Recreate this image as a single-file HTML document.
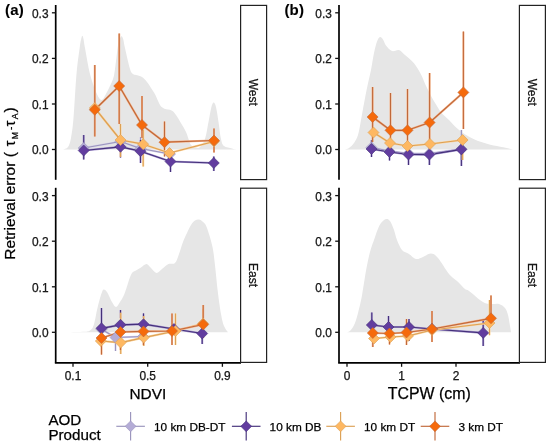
<!DOCTYPE html>
<html><head><meta charset="utf-8"><style>
html,body{margin:0;padding:0;background:#fff;}
svg{display:block;will-change:transform;}
text{font-family:"Liberation Sans",sans-serif;fill:#000;stroke:#000;stroke-width:0.25px;}
.ax{font-size:11.9px;fill:#222;}
.ti{font-size:15.2px;}
.st{font-size:12px;fill:#1a1a1a;}
.lg{font-size:11.8px;}
.tag{font-size:15px;font-weight:bold;letter-spacing:0.2px;stroke-width:0.1px;}
</style></head><body>
<svg width="550" height="445" viewBox="0 0 550 445">
<rect width="550" height="445" fill="#fff"/>
<path d="M63,149.5 C63.83,149.08 66.67,148.92 68,147 C69.33,145.08 70.08,142.83 71,138 C71.92,133.17 72.58,128.67 73.5,118 C74.42,107.33 75.45,85.83 76.5,74 C77.55,62.17 79.02,52.83 79.8,47 C80.58,41.17 80.78,40.87 81.2,39 C81.62,37.13 81.92,35.80 82.3,35.8 C82.68,35.80 83.05,36.97 83.5,39 C83.95,41.03 83.92,42.17 85,48 C86.08,53.83 88.17,66.67 90,74 C91.83,81.33 94.08,87.67 96,92 C97.92,96.33 99.67,100.00 101.5,100 C103.33,100.00 105.08,95.50 107,92 C108.92,88.50 111.67,82.83 113,79 C114.33,75.17 114.13,74.83 115,69 C115.87,63.17 117.33,49.17 118.2,44 C119.07,38.83 119.62,39.30 120.2,38 C120.78,36.70 121.18,35.95 121.7,36.2 C122.22,36.45 122.75,37.53 123.3,39.5 C123.85,41.47 123.88,43.08 125,48 C126.12,52.92 128.67,64.67 130,69 C131.33,73.33 132.00,73.00 133,74 C134.00,75.00 134.50,74.50 136,75 C137.50,75.50 140.17,75.83 142,77 C143.83,78.17 145.50,80.17 147,82 C148.50,83.83 149.60,85.83 151,88 C152.40,90.17 153.90,92.17 155.4,95 C156.90,97.83 158.50,102.72 160,105 C161.50,107.28 162.47,107.80 164.4,108.7 C166.33,109.60 169.67,109.35 171.6,110.4 C173.53,111.45 174.35,112.73 176,115 C177.65,117.27 179.83,121.17 181.5,124 C183.17,126.83 184.83,129.50 186,132 C187.17,134.50 187.67,136.83 188.5,139 C189.33,141.17 189.75,143.58 191,145 C192.25,146.42 194.50,147.17 196,147.5 C197.50,147.83 198.50,148.42 200,147 C201.50,145.58 203.58,143.17 205,139 C206.42,134.83 207.45,127.25 208.5,122 C209.55,116.75 210.43,110.75 211.3,107.5 C212.17,104.25 212.90,102.50 213.7,102.5 C214.50,102.50 215.30,104.25 216.1,107.5 C216.90,110.75 217.68,116.75 218.5,122 C219.32,127.25 220.08,135.00 221,139 C221.92,143.00 222.17,144.42 224,146 C225.83,147.58 230.00,147.92 232,148.5 C234.00,149.08 235.33,149.33 236,149.5 Z" fill="#e6e6e6"/>
<path d="M63,332.3 C66.67,332.22 80.50,332.10 85,331.8 C89.50,331.50 88.67,331.30 90,330.5 C91.33,329.70 92.17,328.75 93,327 C93.83,325.25 94.33,322.83 95,320 C95.67,317.17 96.25,313.33 97,310 C97.75,306.67 98.75,302.75 99.5,300 C100.25,297.25 100.83,295.25 101.5,293.5 C102.17,291.75 102.58,289.75 103.5,289.5 C104.42,289.25 105.58,289.92 107,292 C108.42,294.08 110.50,299.50 112,302 C113.50,304.50 114.67,307.00 116,307 C117.33,307.00 118.75,303.83 120,302 C121.25,300.17 122.42,298.33 123.5,296 C124.58,293.67 125.58,290.67 126.5,288 C127.42,285.33 128.08,282.50 129,280 C129.92,277.50 130.83,274.58 132,273 C133.17,271.42 134.50,271.42 136,270.5 C137.50,269.58 139.25,268.58 141,267.5 C142.75,266.42 144.83,263.92 146.5,264 C148.17,264.08 149.33,266.50 151,268 C152.67,269.50 154.67,272.83 156.5,273 C158.33,273.17 160.00,270.50 162,269 C164.00,267.50 166.33,265.00 168.5,264 C170.67,263.00 173.25,264.67 175,263 C176.75,261.33 177.67,257.50 179,254 C180.33,250.50 181.67,245.50 183,242 C184.33,238.50 185.67,235.83 187,233 C188.33,230.17 189.67,227.08 191,225 C192.33,222.92 193.67,221.42 195,220.5 C196.33,219.58 197.75,219.33 199,219.5 C200.25,219.67 201.23,220.25 202.5,221.5 C203.77,222.75 204.93,222.75 206.6,227 C208.27,231.25 211.05,240.17 212.5,247 C213.95,253.83 214.45,260.83 215.3,268 C216.15,275.17 216.65,282.33 217.6,290 C218.55,297.67 219.93,308.00 221,314 C222.07,320.00 222.83,322.95 224,326 C225.17,329.05 227.33,331.25 228,332.3 Z" fill="#e6e6e6"/>
<path d="M345,149.5 C345.67,149.25 347.50,149.08 349,148 C350.50,146.92 352.50,145.17 354,143 C355.50,140.83 356.83,138.83 358,135 C359.17,131.17 360.17,124.33 361,120 C361.83,115.67 362.00,114.33 363,109 C364.00,103.67 365.67,94.50 367,88 C368.33,81.50 369.83,75.83 371,70 C372.17,64.17 373.00,57.75 374,53 C375.00,48.25 376.00,44.17 377,41.5 C378.00,38.83 379.00,37.33 380,37 C381.00,36.67 382.00,38.08 383,39.5 C384.00,40.92 384.50,43.58 386,45.5 C387.50,47.42 389.83,50.25 392,51 C394.17,51.75 396.83,49.33 399,50 C401.17,50.67 402.50,52.78 405,55 C407.50,57.22 411.42,60.20 414,63.3 C416.58,66.40 418.55,69.95 420.5,73.6 C422.45,77.25 423.98,81.53 425.7,85.2 C427.42,88.87 429.08,92.37 430.8,95.6 C432.52,98.83 434.27,101.80 436,104.6 C437.73,107.40 439.03,109.83 441.2,112.4 C443.37,114.97 446.42,117.42 449,120 C451.58,122.58 453.70,125.30 456.7,127.9 C459.70,130.50 463.55,133.45 467,135.6 C470.45,137.75 473.52,139.28 477.4,140.8 C481.28,142.32 486.00,143.63 490.3,144.7 C494.60,145.77 499.42,146.40 503.2,147.2 C506.98,148.00 511.37,149.12 513,149.5 Z" fill="#e6e6e6"/>
<path d="M345,332.3 C345.83,332.08 348.33,332.55 350,331 C351.67,329.45 353.58,326.33 355,323 C356.42,319.67 357.42,315.17 358.5,311 C359.58,306.83 360.58,302.67 361.5,298 C362.42,293.33 363.17,288.00 364,283 C364.83,278.00 365.67,272.50 366.5,268 C367.33,263.50 368.17,259.50 369,256 C369.83,252.50 370.67,249.67 371.5,247 C372.33,244.33 373.00,242.83 374,240 C375.00,237.17 376.33,232.83 377.5,230 C378.67,227.17 379.58,224.83 381,223 C382.42,221.17 384.50,219.33 386,219 C387.50,218.67 388.67,219.17 390,221 C391.33,222.83 392.83,226.83 394,230 C395.17,233.17 395.67,236.67 397,240 C398.33,243.33 400.00,247.67 402,250 C404.00,252.33 406.67,252.50 409,254 C411.33,255.50 413.67,258.50 416,259 C418.33,259.50 420.50,257.90 423,257 C425.50,256.10 428.50,253.43 431,253.6 C433.50,253.77 435.00,254.60 438,258 C441.00,261.40 445.83,270.17 449,274 C452.17,277.83 454.33,278.50 457,281 C459.67,283.50 463.00,287.33 465,289 C467.00,290.67 466.00,288.83 469,291 C472.00,293.17 479.33,299.83 483,302 C486.67,304.17 488.33,303.67 491,304 C493.67,304.33 496.67,303.33 499,304 C501.33,304.67 503.50,306.17 505,308 C506.50,309.83 507.17,312.00 508,315 C508.83,318.00 509.50,323.12 510,326 C510.50,328.88 510.83,331.25 511,332.3 Z" fill="#e6e6e6"/>
<line x1="140.5" y1="137" x2="140.5" y2="160" stroke="#d6d2ea" stroke-width="2.05"/>
<line x1="140.5" y1="137" x2="140.5" y2="160" stroke="#9a94bc" stroke-width="1.05"/>
<line x1="83.7" y1="135" x2="83.7" y2="159.5" stroke="#a898d0" stroke-width="2.05"/>
<line x1="83.7" y1="135" x2="83.7" y2="159.5" stroke="#44307a" stroke-width="1.05"/>
<line x1="120.5" y1="140" x2="120.5" y2="157.5" stroke="#a898d0" stroke-width="2.05"/>
<line x1="120.5" y1="140" x2="120.5" y2="157.5" stroke="#44307a" stroke-width="1.05"/>
<line x1="140.5" y1="140" x2="140.5" y2="163" stroke="#a898d0" stroke-width="2.05"/>
<line x1="140.5" y1="140" x2="140.5" y2="163" stroke="#44307a" stroke-width="1.05"/>
<line x1="170.5" y1="150" x2="170.5" y2="172" stroke="#a898d0" stroke-width="2.05"/>
<line x1="170.5" y1="150" x2="170.5" y2="172" stroke="#44307a" stroke-width="1.05"/>
<line x1="213.8" y1="156.5" x2="213.8" y2="171" stroke="#a898d0" stroke-width="2.05"/>
<line x1="213.8" y1="156.5" x2="213.8" y2="171" stroke="#44307a" stroke-width="1.05"/>
<line x1="120.5" y1="124" x2="120.5" y2="157" stroke="#fdd6a0" stroke-width="2.05"/>
<line x1="120.5" y1="124" x2="120.5" y2="157" stroke="#dca055" stroke-width="1.05"/>
<line x1="143.2" y1="130" x2="143.2" y2="166.5" stroke="#fdd6a0" stroke-width="2.05"/>
<line x1="143.2" y1="130" x2="143.2" y2="166.5" stroke="#dca055" stroke-width="1.05"/>
<line x1="94.8" y1="65" x2="94.8" y2="136.5" stroke="#f6b48a" stroke-width="2.05"/>
<line x1="94.8" y1="65" x2="94.8" y2="136.5" stroke="#c0683a" stroke-width="1.05"/>
<line x1="119.2" y1="33.5" x2="119.2" y2="124" stroke="#f6b48a" stroke-width="2.05"/>
<line x1="119.2" y1="33.5" x2="119.2" y2="124" stroke="#c0683a" stroke-width="1.05"/>
<line x1="142" y1="96" x2="142" y2="138" stroke="#f6b48a" stroke-width="2.05"/>
<line x1="142" y1="96" x2="142" y2="138" stroke="#c0683a" stroke-width="1.05"/>
<line x1="164.5" y1="121.5" x2="164.5" y2="156.5" stroke="#f6b48a" stroke-width="2.05"/>
<line x1="164.5" y1="121.5" x2="164.5" y2="156.5" stroke="#c0683a" stroke-width="1.05"/>
<line x1="214" y1="128.5" x2="214" y2="152.5" stroke="#f6b48a" stroke-width="2.05"/>
<line x1="214" y1="128.5" x2="214" y2="152.5" stroke="#c0683a" stroke-width="1.05"/>
<path d="M83.7,148 L120.5,141.5 L140.5,148.5 L170,154" fill="none" stroke="#d6d2ea" stroke-width="2.2" stroke-linejoin="round"/><path d="M83.7,148 L120.5,141.5 L140.5,148.5 L170,154" fill="none" stroke="#9a94bc" stroke-width="1.2" stroke-linejoin="round"/>
<path d="M83.7,150.5 L120.5,146.8 L140.5,151.2 L170.5,161.5 L213.8,163" fill="none" stroke="#a898d0" stroke-width="2.2" stroke-linejoin="round"/><path d="M83.7,150.5 L120.5,146.8 L140.5,151.2 L170.5,161.5 L213.8,163" fill="none" stroke="#44307a" stroke-width="1.2" stroke-linejoin="round"/>
<path d="M94.8,108 L120.5,140 L143.2,144.2 L169.5,153 L214,141.5" fill="none" stroke="#fdd6a0" stroke-width="2.2" stroke-linejoin="round"/><path d="M94.8,108 L120.5,140 L143.2,144.2 L169.5,153 L214,141.5" fill="none" stroke="#dca055" stroke-width="1.2" stroke-linejoin="round"/>
<path d="M94.8,109.8 L119.2,86 L142,125 L164.5,142.2 L214,140.5" fill="none" stroke="#f6b48a" stroke-width="2.2" stroke-linejoin="round"/><path d="M94.8,109.8 L119.2,86 L142,125 L164.5,142.2 L214,140.5" fill="none" stroke="#c0683a" stroke-width="1.2" stroke-linejoin="round"/>
<path d="M83.7,142.5 L89.2,148 L83.7,153.5 L78.2,148 Z" fill="#b4acd6" stroke="#9a94bc" stroke-width="0.6"/>
<path d="M120.5,136.0 L126.0,141.5 L120.5,147.0 L115.0,141.5 Z" fill="#b4acd6" stroke="#9a94bc" stroke-width="0.6"/>
<path d="M140.5,143.0 L146.0,148.5 L140.5,154.0 L135.0,148.5 Z" fill="#b4acd6" stroke="#9a94bc" stroke-width="0.6"/>
<path d="M170,148.5 L175.5,154 L170,159.5 L164.5,154 Z" fill="#b4acd6" stroke="#9a94bc" stroke-width="0.6"/>
<path d="M83.7,145.0 L89.2,150.5 L83.7,156.0 L78.2,150.5 Z" fill="#623d9f" stroke="#44307a" stroke-width="0.6"/>
<path d="M120.5,141.3 L126.0,146.8 L120.5,152.3 L115.0,146.8 Z" fill="#623d9f" stroke="#44307a" stroke-width="0.6"/>
<path d="M140.5,145.7 L146.0,151.2 L140.5,156.7 L135.0,151.2 Z" fill="#623d9f" stroke="#44307a" stroke-width="0.6"/>
<path d="M170.5,156.0 L176.0,161.5 L170.5,167.0 L165.0,161.5 Z" fill="#623d9f" stroke="#44307a" stroke-width="0.6"/>
<path d="M213.8,157.5 L219.3,163 L213.8,168.5 L208.3,163 Z" fill="#623d9f" stroke="#44307a" stroke-width="0.6"/>
<path d="M94.8,102.5 L100.3,108 L94.8,113.5 L89.3,108 Z" fill="#feb862" stroke="#dca055" stroke-width="0.6"/>
<path d="M120.5,134.5 L126.0,140 L120.5,145.5 L115.0,140 Z" fill="#feb862" stroke="#dca055" stroke-width="0.6"/>
<path d="M143.2,138.7 L148.7,144.2 L143.2,149.7 L137.7,144.2 Z" fill="#feb862" stroke="#dca055" stroke-width="0.6"/>
<path d="M169.5,147.5 L175.0,153 L169.5,158.5 L164.0,153 Z" fill="#feb862" stroke="#dca055" stroke-width="0.6"/>
<path d="M214,136.0 L219.5,141.5 L214,147.0 L208.5,141.5 Z" fill="#feb862" stroke="#dca055" stroke-width="0.6"/>
<path d="M94.8,104.3 L100.3,109.8 L94.8,115.3 L89.3,109.8 Z" fill="#f56a0c" stroke="#c0683a" stroke-width="0.6"/>
<path d="M119.2,80.5 L124.7,86 L119.2,91.5 L113.7,86 Z" fill="#f56a0c" stroke="#c0683a" stroke-width="0.6"/>
<path d="M142,119.5 L147.5,125 L142,130.5 L136.5,125 Z" fill="#f56a0c" stroke="#c0683a" stroke-width="0.6"/>
<path d="M164.5,136.7 L170.0,142.2 L164.5,147.7 L159.0,142.2 Z" fill="#f56a0c" stroke="#c0683a" stroke-width="0.6"/>
<path d="M214,135.0 L219.5,140.5 L214,146.0 L208.5,140.5 Z" fill="#f56a0c" stroke="#c0683a" stroke-width="0.6"/>
<line x1="115.5" y1="342" x2="115.5" y2="351" stroke="#d6d2ea" stroke-width="2.05"/>
<line x1="115.5" y1="342" x2="115.5" y2="351" stroke="#9a94bc" stroke-width="1.05"/>
<line x1="101.5" y1="308" x2="101.5" y2="345" stroke="#a898d0" stroke-width="2.05"/>
<line x1="101.5" y1="308" x2="101.5" y2="345" stroke="#44307a" stroke-width="1.05"/>
<line x1="120.5" y1="310" x2="120.5" y2="318" stroke="#a898d0" stroke-width="2.05"/>
<line x1="120.5" y1="310" x2="120.5" y2="318" stroke="#44307a" stroke-width="1.05"/>
<line x1="143.5" y1="313.4" x2="143.5" y2="318" stroke="#a898d0" stroke-width="2.05"/>
<line x1="143.5" y1="313.4" x2="143.5" y2="318" stroke="#44307a" stroke-width="1.05"/>
<line x1="202.2" y1="323" x2="202.2" y2="344" stroke="#a898d0" stroke-width="2.05"/>
<line x1="202.2" y1="323" x2="202.2" y2="344" stroke="#44307a" stroke-width="1.05"/>
<line x1="120.7" y1="312.8" x2="120.7" y2="354" stroke="#fdd6a0" stroke-width="2.05"/>
<line x1="120.7" y1="312.8" x2="120.7" y2="354" stroke="#dca055" stroke-width="1.05"/>
<line x1="143.7" y1="316" x2="143.7" y2="346" stroke="#fdd6a0" stroke-width="2.05"/>
<line x1="143.7" y1="316" x2="143.7" y2="346" stroke="#dca055" stroke-width="1.05"/>
<line x1="175.5" y1="313.5" x2="175.5" y2="345" stroke="#fdd6a0" stroke-width="2.05"/>
<line x1="175.5" y1="313.5" x2="175.5" y2="345" stroke="#dca055" stroke-width="1.05"/>
<line x1="203" y1="309" x2="203" y2="330" stroke="#fdd6a0" stroke-width="2.05"/>
<line x1="203" y1="309" x2="203" y2="330" stroke="#dca055" stroke-width="1.05"/>
<line x1="101.5" y1="332" x2="101.5" y2="354.6" stroke="#f6b48a" stroke-width="2.05"/>
<line x1="101.5" y1="332" x2="101.5" y2="354.6" stroke="#c0683a" stroke-width="1.05"/>
<line x1="120.5" y1="328" x2="120.5" y2="350" stroke="#f6b48a" stroke-width="2.05"/>
<line x1="120.5" y1="328" x2="120.5" y2="350" stroke="#c0683a" stroke-width="1.05"/>
<line x1="143.5" y1="328" x2="143.5" y2="345" stroke="#f6b48a" stroke-width="2.05"/>
<line x1="143.5" y1="328" x2="143.5" y2="345" stroke="#c0683a" stroke-width="1.05"/>
<line x1="172" y1="313.5" x2="172" y2="345" stroke="#f6b48a" stroke-width="2.05"/>
<line x1="172" y1="313.5" x2="172" y2="345" stroke="#c0683a" stroke-width="1.05"/>
<line x1="203.2" y1="305" x2="203.2" y2="338" stroke="#f6b48a" stroke-width="2.05"/>
<line x1="203.2" y1="305" x2="203.2" y2="338" stroke="#c0683a" stroke-width="1.05"/>
<path d="M101.5,329.3 L115.5,337.5 L143,336.5" fill="none" stroke="#d6d2ea" stroke-width="2.2" stroke-linejoin="round"/><path d="M101.5,329.3 L115.5,337.5 L143,336.5" fill="none" stroke="#9a94bc" stroke-width="1.2" stroke-linejoin="round"/>
<path d="M101.5,328.3 L120.5,324.8 L143.5,324.2 L174,329 L202.2,333.5" fill="none" stroke="#a898d0" stroke-width="2.2" stroke-linejoin="round"/><path d="M101.5,328.3 L120.5,324.8 L143.5,324.2 L174,329 L202.2,333.5" fill="none" stroke="#44307a" stroke-width="1.2" stroke-linejoin="round"/>
<path d="M100.8,341 L120.7,342.6 L143.7,337.6 L175.5,331 L203,323.5" fill="none" stroke="#fdd6a0" stroke-width="2.2" stroke-linejoin="round"/><path d="M100.8,341 L120.7,342.6 L143.7,337.6 L175.5,331 L203,323.5" fill="none" stroke="#dca055" stroke-width="1.2" stroke-linejoin="round"/>
<path d="M101.5,338 L120.5,332 L143.5,331.4 L172,331 L203.2,324.5" fill="none" stroke="#f6b48a" stroke-width="2.2" stroke-linejoin="round"/><path d="M101.5,338 L120.5,332 L143.5,331.4 L172,331 L203.2,324.5" fill="none" stroke="#c0683a" stroke-width="1.2" stroke-linejoin="round"/>
<path d="M101.5,323.8 L107.0,329.3 L101.5,334.8 L96.0,329.3 Z" fill="#b4acd6" stroke="#9a94bc" stroke-width="0.6"/>
<path d="M115.5,332.0 L121.0,337.5 L115.5,343.0 L110.0,337.5 Z" fill="#b4acd6" stroke="#9a94bc" stroke-width="0.6"/>
<path d="M143,331.0 L148.5,336.5 L143,342.0 L137.5,336.5 Z" fill="#b4acd6" stroke="#9a94bc" stroke-width="0.6"/>
<path d="M101.5,322.8 L107.0,328.3 L101.5,333.8 L96.0,328.3 Z" fill="#623d9f" stroke="#44307a" stroke-width="0.6"/>
<path d="M120.5,319.3 L126.0,324.8 L120.5,330.3 L115.0,324.8 Z" fill="#623d9f" stroke="#44307a" stroke-width="0.6"/>
<path d="M143.5,318.7 L149.0,324.2 L143.5,329.7 L138.0,324.2 Z" fill="#623d9f" stroke="#44307a" stroke-width="0.6"/>
<path d="M174,323.5 L179.5,329 L174,334.5 L168.5,329 Z" fill="#623d9f" stroke="#44307a" stroke-width="0.6"/>
<path d="M202.2,328.0 L207.7,333.5 L202.2,339.0 L196.7,333.5 Z" fill="#623d9f" stroke="#44307a" stroke-width="0.6"/>
<path d="M100.8,335.5 L106.3,341 L100.8,346.5 L95.3,341 Z" fill="#feb862" stroke="#dca055" stroke-width="0.6"/>
<path d="M120.7,337.1 L126.2,342.6 L120.7,348.1 L115.2,342.6 Z" fill="#feb862" stroke="#dca055" stroke-width="0.6"/>
<path d="M143.7,332.1 L149.2,337.6 L143.7,343.1 L138.2,337.6 Z" fill="#feb862" stroke="#dca055" stroke-width="0.6"/>
<path d="M175.5,325.5 L181.0,331 L175.5,336.5 L170.0,331 Z" fill="#feb862" stroke="#dca055" stroke-width="0.6"/>
<path d="M203,318.0 L208.5,323.5 L203,329.0 L197.5,323.5 Z" fill="#feb862" stroke="#dca055" stroke-width="0.6"/>
<path d="M101.5,332.5 L107.0,338 L101.5,343.5 L96.0,338 Z" fill="#f56a0c" stroke="#c0683a" stroke-width="0.6"/>
<path d="M120.5,326.5 L126.0,332 L120.5,337.5 L115.0,332 Z" fill="#f56a0c" stroke="#c0683a" stroke-width="0.6"/>
<path d="M143.5,325.9 L149.0,331.4 L143.5,336.9 L138.0,331.4 Z" fill="#f56a0c" stroke="#c0683a" stroke-width="0.6"/>
<path d="M172,325.5 L177.5,331 L172,336.5 L166.5,331 Z" fill="#f56a0c" stroke="#c0683a" stroke-width="0.6"/>
<path d="M203.2,319.0 L208.7,324.5 L203.2,330.0 L197.7,324.5 Z" fill="#f56a0c" stroke="#c0683a" stroke-width="0.6"/>
<line x1="461.4" y1="130" x2="461.4" y2="160" stroke="#d6d2ea" stroke-width="2.05"/>
<line x1="461.4" y1="130" x2="461.4" y2="160" stroke="#9a94bc" stroke-width="1.05"/>
<line x1="371.5" y1="140" x2="371.5" y2="157" stroke="#a898d0" stroke-width="2.05"/>
<line x1="371.5" y1="140" x2="371.5" y2="157" stroke="#44307a" stroke-width="1.05"/>
<line x1="389.5" y1="143" x2="389.5" y2="160.5" stroke="#a898d0" stroke-width="2.05"/>
<line x1="389.5" y1="143" x2="389.5" y2="160.5" stroke="#44307a" stroke-width="1.05"/>
<line x1="408.5" y1="146" x2="408.5" y2="165" stroke="#a898d0" stroke-width="2.05"/>
<line x1="408.5" y1="146" x2="408.5" y2="165" stroke="#44307a" stroke-width="1.05"/>
<line x1="429.4" y1="146" x2="429.4" y2="165" stroke="#a898d0" stroke-width="2.05"/>
<line x1="429.4" y1="146" x2="429.4" y2="165" stroke="#44307a" stroke-width="1.05"/>
<line x1="461.4" y1="144" x2="461.4" y2="166" stroke="#a898d0" stroke-width="2.05"/>
<line x1="461.4" y1="144" x2="461.4" y2="166" stroke="#44307a" stroke-width="1.05"/>
<line x1="462.6" y1="135" x2="462.6" y2="160" stroke="#fdd6a0" stroke-width="2.05"/>
<line x1="462.6" y1="135" x2="462.6" y2="160" stroke="#dca055" stroke-width="1.05"/>
<line x1="372.6" y1="87" x2="372.6" y2="142" stroke="#f6b48a" stroke-width="2.05"/>
<line x1="372.6" y1="87" x2="372.6" y2="142" stroke="#c0683a" stroke-width="1.05"/>
<line x1="390.5" y1="93" x2="390.5" y2="150" stroke="#f6b48a" stroke-width="2.05"/>
<line x1="390.5" y1="93" x2="390.5" y2="150" stroke="#c0683a" stroke-width="1.05"/>
<line x1="407.5" y1="89" x2="407.5" y2="150" stroke="#f6b48a" stroke-width="2.05"/>
<line x1="407.5" y1="89" x2="407.5" y2="150" stroke="#c0683a" stroke-width="1.05"/>
<line x1="429.6" y1="73" x2="429.6" y2="140" stroke="#f6b48a" stroke-width="2.05"/>
<line x1="429.6" y1="73" x2="429.6" y2="140" stroke="#c0683a" stroke-width="1.05"/>
<line x1="463.4" y1="31.6" x2="463.4" y2="129" stroke="#f6b48a" stroke-width="2.05"/>
<line x1="463.4" y1="31.6" x2="463.4" y2="129" stroke="#c0683a" stroke-width="1.05"/>
<path d="M371.5,147.5 L389.5,151 L408.5,153.5 L429.4,153.6 L461.4,149" fill="none" stroke="#d6d2ea" stroke-width="2.2" stroke-linejoin="round"/><path d="M371.5,147.5 L389.5,151 L408.5,153.5 L429.4,153.6 L461.4,149" fill="none" stroke="#9a94bc" stroke-width="1.2" stroke-linejoin="round"/>
<path d="M371.5,149 L389.5,152 L408.5,154.5 L429.4,154.6 L461.4,149.4" fill="none" stroke="#a898d0" stroke-width="2.2" stroke-linejoin="round"/><path d="M371.5,149 L389.5,152 L408.5,154.5 L429.4,154.6 L461.4,149.4" fill="none" stroke="#44307a" stroke-width="1.2" stroke-linejoin="round"/>
<path d="M373.5,132.5 L390,143 L407.5,146 L430,144 L462.6,140" fill="none" stroke="#fdd6a0" stroke-width="2.2" stroke-linejoin="round"/><path d="M373.5,132.5 L390,143 L407.5,146 L430,144 L462.6,140" fill="none" stroke="#dca055" stroke-width="1.2" stroke-linejoin="round"/>
<path d="M372.6,117 L390.5,130.3 L407.5,130.3 L429.6,122.5 L463.4,92.4" fill="none" stroke="#f6b48a" stroke-width="2.2" stroke-linejoin="round"/><path d="M372.6,117 L390.5,130.3 L407.5,130.3 L429.6,122.5 L463.4,92.4" fill="none" stroke="#c0683a" stroke-width="1.2" stroke-linejoin="round"/>
<path d="M371.5,142.0 L377.0,147.5 L371.5,153.0 L366.0,147.5 Z" fill="#b4acd6" stroke="#9a94bc" stroke-width="0.6"/>
<path d="M389.5,145.5 L395.0,151 L389.5,156.5 L384.0,151 Z" fill="#b4acd6" stroke="#9a94bc" stroke-width="0.6"/>
<path d="M408.5,148.0 L414.0,153.5 L408.5,159.0 L403.0,153.5 Z" fill="#b4acd6" stroke="#9a94bc" stroke-width="0.6"/>
<path d="M429.4,148.1 L434.9,153.6 L429.4,159.1 L423.9,153.6 Z" fill="#b4acd6" stroke="#9a94bc" stroke-width="0.6"/>
<path d="M461.4,143.5 L466.9,149 L461.4,154.5 L455.9,149 Z" fill="#b4acd6" stroke="#9a94bc" stroke-width="0.6"/>
<path d="M371.5,143.5 L377.0,149 L371.5,154.5 L366.0,149 Z" fill="#623d9f" stroke="#44307a" stroke-width="0.6"/>
<path d="M389.5,146.5 L395.0,152 L389.5,157.5 L384.0,152 Z" fill="#623d9f" stroke="#44307a" stroke-width="0.6"/>
<path d="M408.5,149.0 L414.0,154.5 L408.5,160.0 L403.0,154.5 Z" fill="#623d9f" stroke="#44307a" stroke-width="0.6"/>
<path d="M429.4,149.1 L434.9,154.6 L429.4,160.1 L423.9,154.6 Z" fill="#623d9f" stroke="#44307a" stroke-width="0.6"/>
<path d="M461.4,143.9 L466.9,149.4 L461.4,154.9 L455.9,149.4 Z" fill="#623d9f" stroke="#44307a" stroke-width="0.6"/>
<path d="M373.5,127.0 L379.0,132.5 L373.5,138.0 L368.0,132.5 Z" fill="#feb862" stroke="#dca055" stroke-width="0.6"/>
<path d="M390,137.5 L395.5,143 L390,148.5 L384.5,143 Z" fill="#feb862" stroke="#dca055" stroke-width="0.6"/>
<path d="M407.5,140.5 L413.0,146 L407.5,151.5 L402.0,146 Z" fill="#feb862" stroke="#dca055" stroke-width="0.6"/>
<path d="M430,138.5 L435.5,144 L430,149.5 L424.5,144 Z" fill="#feb862" stroke="#dca055" stroke-width="0.6"/>
<path d="M462.6,134.5 L468.1,140 L462.6,145.5 L457.1,140 Z" fill="#feb862" stroke="#dca055" stroke-width="0.6"/>
<path d="M372.6,111.5 L378.1,117 L372.6,122.5 L367.1,117 Z" fill="#f56a0c" stroke="#c0683a" stroke-width="0.6"/>
<path d="M390.5,124.80000000000001 L396.0,130.3 L390.5,135.8 L385.0,130.3 Z" fill="#f56a0c" stroke="#c0683a" stroke-width="0.6"/>
<path d="M407.5,124.80000000000001 L413.0,130.3 L407.5,135.8 L402.0,130.3 Z" fill="#f56a0c" stroke="#c0683a" stroke-width="0.6"/>
<path d="M429.6,117.0 L435.1,122.5 L429.6,128.0 L424.1,122.5 Z" fill="#f56a0c" stroke="#c0683a" stroke-width="0.6"/>
<path d="M463.4,86.9 L468.9,92.4 L463.4,97.9 L457.9,92.4 Z" fill="#f56a0c" stroke="#c0683a" stroke-width="0.6"/>
<line x1="371.8" y1="312.5" x2="371.8" y2="338" stroke="#a898d0" stroke-width="2.05"/>
<line x1="371.8" y1="312.5" x2="371.8" y2="338" stroke="#44307a" stroke-width="1.05"/>
<line x1="388.5" y1="316" x2="388.5" y2="340" stroke="#a898d0" stroke-width="2.05"/>
<line x1="388.5" y1="316" x2="388.5" y2="340" stroke="#44307a" stroke-width="1.05"/>
<line x1="409" y1="319" x2="409" y2="341" stroke="#a898d0" stroke-width="2.05"/>
<line x1="409" y1="319" x2="409" y2="341" stroke="#44307a" stroke-width="1.05"/>
<line x1="483.2" y1="319" x2="483.2" y2="346" stroke="#a898d0" stroke-width="2.05"/>
<line x1="483.2" y1="319" x2="483.2" y2="346" stroke="#44307a" stroke-width="1.05"/>
<line x1="489.5" y1="300" x2="489.5" y2="335.2" stroke="#fdd6a0" stroke-width="2.05"/>
<line x1="489.5" y1="300" x2="489.5" y2="335.2" stroke="#dca055" stroke-width="1.05"/>
<line x1="372.8" y1="322" x2="372.8" y2="347" stroke="#f6b48a" stroke-width="2.05"/>
<line x1="372.8" y1="322" x2="372.8" y2="347" stroke="#c0683a" stroke-width="1.05"/>
<line x1="389.5" y1="322" x2="389.5" y2="344.5" stroke="#f6b48a" stroke-width="2.05"/>
<line x1="389.5" y1="322" x2="389.5" y2="344.5" stroke="#c0683a" stroke-width="1.05"/>
<line x1="406.5" y1="319" x2="406.5" y2="345" stroke="#f6b48a" stroke-width="2.05"/>
<line x1="406.5" y1="319" x2="406.5" y2="345" stroke="#c0683a" stroke-width="1.05"/>
<line x1="432" y1="311" x2="432" y2="342" stroke="#f6b48a" stroke-width="2.05"/>
<line x1="432" y1="311" x2="432" y2="342" stroke="#c0683a" stroke-width="1.05"/>
<line x1="491" y1="295.4" x2="491" y2="316" stroke="#f6b48a" stroke-width="2.05"/>
<line x1="491" y1="295.4" x2="491" y2="316" stroke="#c0683a" stroke-width="1.05"/>
<path d="M371.8,325 L388.5,327 L409,327 L432,329 L483.2,332.9" fill="none" stroke="#a898d0" stroke-width="2.2" stroke-linejoin="round"/><path d="M371.8,325 L388.5,327 L409,327 L432,329 L483.2,332.9" fill="none" stroke="#44307a" stroke-width="1.2" stroke-linejoin="round"/>
<path d="M374,338.5 L390.5,337 L408,336 L432,330 L489.5,323" fill="none" stroke="#fdd6a0" stroke-width="2.2" stroke-linejoin="round"/><path d="M374,338.5 L390.5,337 L408,336 L432,330 L489.5,323" fill="none" stroke="#dca055" stroke-width="1.2" stroke-linejoin="round"/>
<path d="M372.8,333 L389.5,333.5 L406.5,332.5 L432,329 L491,318.3" fill="none" stroke="#f6b48a" stroke-width="2.2" stroke-linejoin="round"/><path d="M372.8,333 L389.5,333.5 L406.5,332.5 L432,329 L491,318.3" fill="none" stroke="#c0683a" stroke-width="1.2" stroke-linejoin="round"/>
<path d="M371.8,319.5 L377.3,325 L371.8,330.5 L366.3,325 Z" fill="#623d9f" stroke="#44307a" stroke-width="0.6"/>
<path d="M388.5,321.5 L394.0,327 L388.5,332.5 L383.0,327 Z" fill="#623d9f" stroke="#44307a" stroke-width="0.6"/>
<path d="M409,321.5 L414.5,327 L409,332.5 L403.5,327 Z" fill="#623d9f" stroke="#44307a" stroke-width="0.6"/>
<path d="M432,323.5 L437.5,329 L432,334.5 L426.5,329 Z" fill="#623d9f" stroke="#44307a" stroke-width="0.6"/>
<path d="M483.2,327.4 L488.7,332.9 L483.2,338.4 L477.7,332.9 Z" fill="#623d9f" stroke="#44307a" stroke-width="0.6"/>
<path d="M374,333.0 L379.5,338.5 L374,344.0 L368.5,338.5 Z" fill="#feb862" stroke="#dca055" stroke-width="0.6"/>
<path d="M390.5,331.5 L396.0,337 L390.5,342.5 L385.0,337 Z" fill="#feb862" stroke="#dca055" stroke-width="0.6"/>
<path d="M408,330.5 L413.5,336 L408,341.5 L402.5,336 Z" fill="#feb862" stroke="#dca055" stroke-width="0.6"/>
<path d="M432,324.5 L437.5,330 L432,335.5 L426.5,330 Z" fill="#feb862" stroke="#dca055" stroke-width="0.6"/>
<path d="M489.5,317.5 L495.0,323 L489.5,328.5 L484.0,323 Z" fill="#feb862" stroke="#dca055" stroke-width="0.6"/>
<path d="M372.8,327.5 L378.3,333 L372.8,338.5 L367.3,333 Z" fill="#f56a0c" stroke="#c0683a" stroke-width="0.6"/>
<path d="M389.5,328.0 L395.0,333.5 L389.5,339.0 L384.0,333.5 Z" fill="#f56a0c" stroke="#c0683a" stroke-width="0.6"/>
<path d="M406.5,327.0 L412.0,332.5 L406.5,338.0 L401.0,332.5 Z" fill="#f56a0c" stroke="#c0683a" stroke-width="0.6"/>
<path d="M432,323.5 L437.5,329 L432,334.5 L426.5,329 Z" fill="#f56a0c" stroke="#c0683a" stroke-width="0.6"/>
<path d="M491,312.8 L496.5,318.3 L491,323.8 L485.5,318.3 Z" fill="#f56a0c" stroke="#c0683a" stroke-width="0.6"/>
<line x1="55.7" y1="5" x2="55.7" y2="179.8" stroke="#000" stroke-width="1.7"/>
<line x1="51.900000000000006" y1="12.8" x2="55.7" y2="12.8" stroke="#111" stroke-width="1.3"/>
<text x="48.5" y="17.700000000000003" text-anchor="end" class="ax">0.3</text>
<line x1="51.900000000000006" y1="58.4" x2="55.7" y2="58.4" stroke="#111" stroke-width="1.3"/>
<text x="48.5" y="63.3" text-anchor="end" class="ax">0.2</text>
<line x1="51.900000000000006" y1="104" x2="55.7" y2="104" stroke="#111" stroke-width="1.3"/>
<text x="48.5" y="108.9" text-anchor="end" class="ax">0.1</text>
<line x1="51.900000000000006" y1="149.5" x2="55.7" y2="149.5" stroke="#111" stroke-width="1.3"/>
<text x="48.5" y="154.4" text-anchor="end" class="ax">0.0</text>
<line x1="55.7" y1="187.8" x2="55.7" y2="362.6" stroke="#000" stroke-width="1.7"/>
<line x1="51.900000000000006" y1="195.60000000000002" x2="55.7" y2="195.60000000000002" stroke="#111" stroke-width="1.3"/>
<text x="48.5" y="200.50000000000003" text-anchor="end" class="ax">0.3</text>
<line x1="51.900000000000006" y1="241.20000000000002" x2="55.7" y2="241.20000000000002" stroke="#111" stroke-width="1.3"/>
<text x="48.5" y="246.10000000000002" text-anchor="end" class="ax">0.2</text>
<line x1="51.900000000000006" y1="286.8" x2="55.7" y2="286.8" stroke="#111" stroke-width="1.3"/>
<text x="48.5" y="291.7" text-anchor="end" class="ax">0.1</text>
<line x1="51.900000000000006" y1="332.3" x2="55.7" y2="332.3" stroke="#111" stroke-width="1.3"/>
<text x="48.5" y="337.2" text-anchor="end" class="ax">0.0</text>
<line x1="339" y1="5" x2="339" y2="179.8" stroke="#000" stroke-width="1.7"/>
<line x1="335.2" y1="12.8" x2="339" y2="12.8" stroke="#111" stroke-width="1.3"/>
<text x="331.8" y="17.700000000000003" text-anchor="end" class="ax">0.3</text>
<line x1="335.2" y1="58.4" x2="339" y2="58.4" stroke="#111" stroke-width="1.3"/>
<text x="331.8" y="63.3" text-anchor="end" class="ax">0.2</text>
<line x1="335.2" y1="104" x2="339" y2="104" stroke="#111" stroke-width="1.3"/>
<text x="331.8" y="108.9" text-anchor="end" class="ax">0.1</text>
<line x1="335.2" y1="149.5" x2="339" y2="149.5" stroke="#111" stroke-width="1.3"/>
<text x="331.8" y="154.4" text-anchor="end" class="ax">0.0</text>
<line x1="339" y1="187.8" x2="339" y2="362.6" stroke="#000" stroke-width="1.7"/>
<line x1="335.2" y1="195.60000000000002" x2="339" y2="195.60000000000002" stroke="#111" stroke-width="1.3"/>
<text x="331.8" y="200.50000000000003" text-anchor="end" class="ax">0.3</text>
<line x1="335.2" y1="241.20000000000002" x2="339" y2="241.20000000000002" stroke="#111" stroke-width="1.3"/>
<text x="331.8" y="246.10000000000002" text-anchor="end" class="ax">0.2</text>
<line x1="335.2" y1="286.8" x2="339" y2="286.8" stroke="#111" stroke-width="1.3"/>
<text x="331.8" y="291.7" text-anchor="end" class="ax">0.1</text>
<line x1="335.2" y1="332.3" x2="339" y2="332.3" stroke="#111" stroke-width="1.3"/>
<text x="331.8" y="337.2" text-anchor="end" class="ax">0.0</text>
<line x1="54.85" y1="362.8" x2="241" y2="362.8" stroke="#000" stroke-width="1.7"/>
<line x1="338.15" y1="362.8" x2="520" y2="362.8" stroke="#000" stroke-width="1.7"/>
<line x1="73" y1="362.8" x2="73" y2="366.8" stroke="#111" stroke-width="1.3"/>
<text x="73" y="379.5" text-anchor="middle" class="ax">0.1</text>
<line x1="147.7" y1="362.8" x2="147.7" y2="366.8" stroke="#111" stroke-width="1.3"/>
<text x="147.7" y="379.5" text-anchor="middle" class="ax">0.5</text>
<line x1="222.4" y1="362.8" x2="222.4" y2="366.8" stroke="#111" stroke-width="1.3"/>
<text x="222.4" y="379.5" text-anchor="middle" class="ax">0.9</text>
<line x1="347" y1="362.8" x2="347" y2="366.8" stroke="#111" stroke-width="1.3"/>
<text x="347" y="379.5" text-anchor="middle" class="ax">0</text>
<line x1="401.6" y1="362.8" x2="401.6" y2="366.8" stroke="#111" stroke-width="1.3"/>
<text x="401.6" y="379.5" text-anchor="middle" class="ax">1</text>
<line x1="456" y1="362.8" x2="456" y2="366.8" stroke="#111" stroke-width="1.3"/>
<text x="456" y="379.5" text-anchor="middle" class="ax">2</text>
<rect x="240.6" y="5.4" width="26" height="174.2" fill="#fff" stroke="#222" stroke-width="1.2"/>
<text transform="translate(248.9,92.2) rotate(90)" text-anchor="middle" class="st">West</text>
<rect x="240.6" y="188.20000000000002" width="26" height="174.2" fill="#fff" stroke="#222" stroke-width="1.2"/>
<text transform="translate(248.9,275.0) rotate(90)" text-anchor="middle" class="st">East</text>
<rect x="519.4" y="5.4" width="26" height="174.2" fill="#fff" stroke="#222" stroke-width="1.2"/>
<text transform="translate(527.6999999999999,92.2) rotate(90)" text-anchor="middle" class="st">West</text>
<rect x="519.4" y="188.20000000000002" width="26" height="174.2" fill="#fff" stroke="#222" stroke-width="1.2"/>
<text transform="translate(527.6999999999999,275.0) rotate(90)" text-anchor="middle" class="st">East</text>
<text x="147.9" y="398.6" text-anchor="middle" class="ti" style="font-size:15.4px">NDVI</text>
<text x="429.3" y="398.6" text-anchor="middle" class="ti" style="font-size:15.9px">TCPW (cm)</text>
<text x="5" y="14.6" class="tag">(a)</text>
<text x="284.4" y="14.8" class="tag">(b)</text>
<g transform="translate(14.5,259.8) rotate(-90)"><text x="0" y="0" class="ti" style="font-size:15.5px">Retrieval error (</text><text x="113.6" y="0" style="font-size:14px">τ</text><text x="120.6" y="3.5" style="font-size:8.8px">M</text><text x="129.8" y="-0.8" style="font-size:10px">-</text><text x="133.6" y="0" style="font-size:14px">τ</text><text x="140.6" y="3.5" style="font-size:8.8px">A</text><text x="147.2" y="0" style="font-size:15.5px">)</text></g>
<text x="48.4" y="424.5" class="ti">AOD</text>
<text x="48.4" y="440" class="ti">Product</text>
<line x1="116.3" y1="426.3" x2="144.9" y2="426.3" stroke="#9a94bc" stroke-width="1.15"/>
<line x1="130.6" y1="412.0" x2="130.6" y2="440.6" stroke="#9a94bc" stroke-width="1.15"/>
<path d="M130.6,420.90000000000003 L136.0,426.3 L130.6,431.7 L125.19999999999999,426.3 Z" fill="#b4acd6" stroke="#9a94bc" stroke-width="0.6"/>
<text x="154.0" y="430.8" class="lg">10 km DB-DT</text>
<line x1="231.89999999999998" y1="426.3" x2="260.5" y2="426.3" stroke="#44307a" stroke-width="1.15"/>
<line x1="246.2" y1="412.0" x2="246.2" y2="440.6" stroke="#44307a" stroke-width="1.15"/>
<path d="M246.2,420.90000000000003 L251.6,426.3 L246.2,431.7 L240.79999999999998,426.3 Z" fill="#623d9f" stroke="#44307a" stroke-width="0.6"/>
<text x="269.59999999999997" y="430.8" class="lg">10 km DB</text>
<line x1="326.3" y1="426.3" x2="354.90000000000003" y2="426.3" stroke="#dca055" stroke-width="1.15"/>
<line x1="340.6" y1="412.0" x2="340.6" y2="440.6" stroke="#dca055" stroke-width="1.15"/>
<path d="M340.6,420.90000000000003 L346.0,426.3 L340.6,431.7 L335.20000000000005,426.3 Z" fill="#feb862" stroke="#dca055" stroke-width="0.6"/>
<text x="364.0" y="430.8" class="lg">10 km DT</text>
<line x1="420.7" y1="426.3" x2="449.3" y2="426.3" stroke="#c0683a" stroke-width="1.15"/>
<line x1="435" y1="412.0" x2="435" y2="440.6" stroke="#c0683a" stroke-width="1.15"/>
<path d="M435,420.90000000000003 L440.4,426.3 L435,431.7 L429.6,426.3 Z" fill="#f56a0c" stroke="#c0683a" stroke-width="0.6"/>
<text x="458.4" y="430.8" class="lg">3 km DT</text>
</svg></body></html>
